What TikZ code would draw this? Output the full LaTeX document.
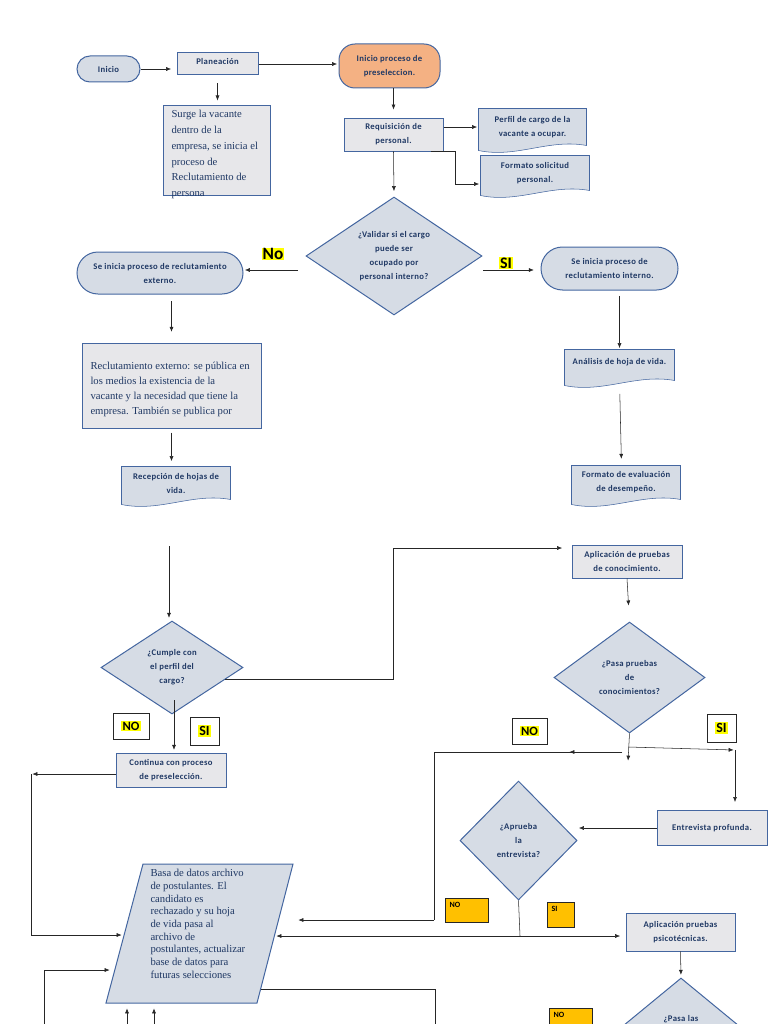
\documentclass[tikz,border=0pt]{standalone}
\usepackage{fontspec}
\newfontfamily\calibri[LetterSpace=4]{Carlito}
\newfontfamily\calibrin{Carlito}
\newfontfamily\timesf{Liberation Serif}
\usetikzlibrary{shapes.geometric,shapes.misc,arrows.meta,calc,backgrounds}

\definecolor{edge}{RGB}{68,102,160}
\definecolor{grayfill}{RGB}{231,231,234}
\definecolor{bluefill}{RGB}{214,220,229}
\definecolor{orangefill}{RGB}{244,177,131}
\definecolor{navy}{RGB}{31,56,100}
\definecolor{hl}{RGB}{255,255,0}
\definecolor{amber}{RGB}{255,192,0}

\newcommand{\hlt}[1]{{\setlength{\fboxsep}{0.8pt}\colorbox{hl}{#1}}}
\newcommand{\docwave}[1]{%
  \path[draw=edge,fill=bluefill] (#1.north west) -- (#1.north east) -- (#1.south east)
    .. controls ($(#1.south east)!0.35!(#1.south west)+(0,-7)$) and ($(#1.south east)!0.65!(#1.south west)+(0,13)$) .. ($(#1.south west)+(0,5)$) -- cycle;}

\tikzset{every picture/.style={line width=0.75pt}}
\tikzset{
  lbl/.style={font=\calibri\fontsize{6.5}{10.5}\selectfont\bfseries, text=navy, align=center, inner sep=0pt},
  gbox/.style={lbl, rectangle, draw=edge, fill=grayfill},
  term/.style={lbl, rounded rectangle, draw=edge, fill=bluefill},
  doc/.style={lbl, rectangle},
  dec/.style={lbl, diamond, aspect=1.5, draw=edge, fill=bluefill},
  serif/.style={font=\timesf\fontsize{8}{11.8}\selectfont, text=navy, align=left, inner sep=0pt},
  flow/.style={draw=black!85, -{Latex[length=3.75pt,width=3pt]}, shorten >=1pt},
  conn/.style={draw=black!85},
  bigyes/.style={font=\calibrin\fontsize{13}{13}\selectfont\bfseries, fill=hl, inner sep=0.6pt},
  tag/.style={draw=black!85, fill=white, inner sep=0pt, font=\calibrin\fontsize{9.5}{10}\selectfont\bfseries},
  amb/.style={draw=black!85, fill=amber, inner sep=0pt},
  ambtext/.style={anchor=north west, inner sep=3.5pt, font=\calibrin\fontsize{6}{7}\selectfont\bfseries}
}

\begin{document}
\begin{tikzpicture}[x=0.75pt,y=0.75pt,yscale=-1,xscale=1]
\useasboundingbox (0,0) rectangle (768,1024);

%Shape: Terminals and boxes, top row
\node[term, minimum width=47.25pt, minimum height=19.5pt] (inicio) at (108.5,69) {Inicio};
\node[gbox, minimum width=60.75pt, minimum height=16.5pt, text depth=3.5pt] (planea) at (217.5,64) {Planeación};
\node[lbl, rectangle, rounded corners=12pt, draw=edge, fill=orangefill, minimum width=75.75pt, minimum height=33pt] (inipro) at (389.5,66) {Inicio proceso de\\preseleccion.};

%Shape: Rectangle with clipped text
\node[gbox, minimum width=80.25pt, minimum height=67.5pt] (surge) at (216.5,150) {};
\begin{scope}
  \clip (surge.north west) rectangle ([yshift=3pt]surge.south east);
  \node[serif, anchor=north west] (surgetxt) at (171,110) {Surge la vacante\\dentro de la\\empresa, se inicia el\\proceso de\\Reclutamiento de\\persona};
\end{scope}

\node[gbox, minimum width=74.25pt, minimum height=24.75pt] (req) at (393.5,134.5) {Requisición de\\personal.};
\node[doc, minimum width=80.25pt, minimum height=27pt] (perfil) at (532.5,127) {Perfil de cargo de la\\vacante a ocupar.};
\node[doc, minimum width=81pt, minimum height=25.5pt] (formsol) at (535,173) {Formato solicitud\\personal.};

%Shape: Diamond
\node[dec, minimum width=132pt, minimum height=88.5pt] (valida) at (394,256) {¿Validar si el cargo\\puede ser\\ocupado por\\personal interno?};
\node[term, minimum width=124.5pt, minimum height=31.5pt] (externo) at (160,273) {Se inicia proceso de reclutamiento\\externo.};
\node[term, minimum width=102.75pt, minimum height=32.25pt] (interno) at (609.5,268.5) {Se inicia proceso de\\reclutamiento interno.};

\node[gbox, minimum width=134.25pt, minimum height=63.75pt] (reclext) at (171.5,385.5) {};
\node[serif, anchor=north west, font=\timesf\fontsize{8}{11.25}\selectfont] (recltxt) at (90,362) {Reclutamiento externo: se pública en\\los medios la existencia de la\\vacante y la necesidad que tiene la\\empresa. También se publica por};

\node[doc, minimum width=81pt, minimum height=24pt] (recep) at (176,483) {Recepción de hojas de\\vida.};
\node[doc, minimum width=81.75pt, minimum height=22.5pt, text depth=5pt] (analisis) at (619.5,365) {Análisis de hoja de vida.};
\node[doc, minimum width=81pt, minimum height=24.75pt] (evalua) at (626,482.5) {Formato de evaluación\\de desempeño.};

\node[dec, minimum width=106.5pt, minimum height=69.75pt] (cumple) at (172,667.5) {¿Cumple con\\el perfil del\\cargo?};
\node[gbox, minimum width=82.5pt, minimum height=24.75pt] (aplica) at (627,561.5) {Aplicación de pruebas\\de conocimiento.};
\node[dec, minimum width=113.25pt, minimum height=83.25pt] (pasapru) at (629.5,677.5) {¿Pasa pruebas\\de\\conocimientos?};
\node[gbox, minimum width=82.5pt, minimum height=25.5pt] (continua) at (171,770) {Continua con proceso\\de preselección.};
\node[gbox, minimum width=82.5pt, minimum height=26.25pt] (entrev) at (712,828) {Entrevista profunda.};
\node[dec, minimum width=87.75pt, minimum height=89.25pt] (aprueba) at (518.5,840.5) {¿Aprueba\\la\\entrevista?};
\node[gbox, minimum width=81.75pt, minimum height=28.5pt] (psico) at (680.5,932) {Aplicación pruebas\\psicotécnicas.};
\node[dec, minimum width=127.5pt, minimum height=105pt] (pasalas) at (681,1048) {};
\node[lbl] (pasalastxt) at (681,1019) {¿Pasa las};

%Shape: Parallelogram
\draw[draw=edge, fill=bluefill] (143,864) -- (293,864) -- (257,1003) -- (106,1003) -- cycle;
\node[serif, anchor=north west, font=\timesf\fontsize{8}{9.5}\selectfont] (basetxt) at (150,869) {Basa de datos archivo\\de postulantes. El\\candidato es\\rechazado y su hoja\\de vida pasa al\\archivo de\\postulantes, actualizar\\base de datos para\\futuras selecciones};

%Shape: Documents (wavy bottom)
\begin{pgfonlayer}{background}
  \docwave{perfil}
  \docwave{formsol}
  \docwave{recep}
  \docwave{analisis}
  \docwave{evalua}
\end{pgfonlayer}

% Text Node
\node[bigyes] (nouno) at (273,254) {No};
\node[bigyes, font=\calibrin\fontsize{12}{12}\selectfont\bfseries] (siuno) at (506,263) {SI};
\node[tag, minimum width=27pt, minimum height=19.5pt] (nodos) at (131,726) {\hlt{NO}};
\node[tag, minimum width=21.75pt, minimum height=21pt, font=\calibrin\fontsize{10.5}{11}\selectfont\bfseries] (sidos) at (204.5,731) {\hlt{SI}};
\node[tag, minimum width=26.25pt, minimum height=19.5pt] (notres) at (529.5,731) {\hlt{NO}};
\node[tag, minimum width=21.75pt, minimum height=21pt, font=\calibrin\fontsize{10.5}{11}\selectfont\bfseries] (sitres) at (721.5,728) {\hlt{SI}};
\node[amb, minimum width=32.25pt, minimum height=18pt, label={[ambtext]north west:NO}] (nocuatro) at (466.5,910) {};
\node[amb, minimum width=20.25pt, minimum height=18.75pt, label={[ambtext]north west:SI}] (sicuatro) at (560.5,914.5) {};
\node[amb, minimum width=32.25pt, minimum height=18pt, label={[ambtext]north west:NO}] (nocinco) at (570.5,1020) {};

%Straight Lines
\draw[flow, shorten >=4pt] (inicio.east) -- (inicio.east -| planea.west);
\draw[flow] (planea.east) -- (planea.east -| inipro.west);
\draw[flow, shorten <=6pt, shorten >=3pt] (planea.south) -- (planea.south |- surge.north);
\draw[flow, shorten >=6pt] (inipro.south -| req.north) -- (req.north);
\draw[flow] (req.east |- perfil.west) -- (perfil.west);
\coordinate (fbend) at (455,184);
\draw[flow] ($(req.south east)+(-13,0)$) -| (fbend) -- (fbend -| formsol.west);
\draw[flow, shorten >=4pt] (req.south) -- (valida.north);

\coordinate (nostart) at (298,270);
\draw[flow] (nostart) -- (nostart -| externo.east);
\coordinate (sistart) at (483,270);
\draw[flow, shorten >=5pt] (sistart) -- (sistart -| interno.west);

\draw[flow, shorten <=5pt, shorten >=8pt] (externo.south -| reclext.north) -- (reclext.north);
\draw[flow, shorten <=3pt, shorten >=4pt] (reclext.south) -- (reclext.south |- recep.north);
\draw[flow, shorten <=4pt] (interno.south -| analisis.north) -- (analisis.north);
\draw[flow, shorten <=10pt, shorten >=5pt] (analisis.south) -- ([xshift=1.5pt]analisis.south |- evalua.north);

\coordinate (cumtop) at (169,546);
\draw[flow, shorten >=2pt] (cumtop) -- (cumtop |- cumple.north);
\coordinate (cumout) at (225,679);
\coordinate (abend) at (393,548);
\draw[flow, shorten >=7pt] (cumout) -| (abend) -- (abend -| aplica.west);
\draw[flow, shorten >=12pt] (aplica.south) -- (pasapru.north);

\coordinate (cumsi) at (174,700);
\draw[flow, shorten >=2pt] (cumsi) -- (cumsi |- continua.north);
\coordinate (contL) at (31,774);
\coordinate (baseL) at (31,935);
\coordinate (basein1) at (123,935);
\draw[flow] (contL -| continua.west) -- (contL);
\draw[flow] (contL) -- (baseL) -- (basein1);

\coordinate (pdown) at (628,762);
\draw[flow] (pasapru.south) -- (pdown);
\coordinate (noA) at (622,752);
\coordinate (noM) at (568,752);
\coordinate (noB) at (434,752);
\coordinate (noC) at (434,920);
\coordinate (basein2) at (297,920);
\draw[conn] (noA) -- (noB) -- (noC);
\draw[flow] (noA) -- (noM);
\draw[flow] (noC) -- (basein2);
\coordinate (siA) at (628,747);
\coordinate (siB) at (735,750);
\draw[flow] (siA) -- (siB);
\draw[flow, shorten >=6pt] (siB) -- (siB |- entrev.north);

\draw[flow] (entrev.west) -- (entrev.west -| aprueba.east);
\coordinate (aj) at (520,936);
\coordinate (basein3) at (275,936);
\draw[conn] (aprueba.south) -- (aj);
\draw[flow] (aj) -- (basein3);
\draw[flow, shorten >=4pt] (aj) -- (aj -| psico.west);
\draw[flow, shorten >=2pt] (psico.south) -- (pasalas.north);

\coordinate (baseout) at (261,989);
\coordinate (outbend) at (435,989);
\draw[conn] (baseout) -- (outbend) -- (435,1030);
\coordinate (leftup) at (44,1030);
\coordinate (basein4) at (111,970);
\draw[flow] (leftup) |- (basein4);
\coordinate (upA) at (127,1030);
\coordinate (upB) at (154,1030);
\draw[flow] (upA) -- (127,1007);
\draw[flow] (upB) -- (154,1007);

\end{tikzpicture}
\end{document}
